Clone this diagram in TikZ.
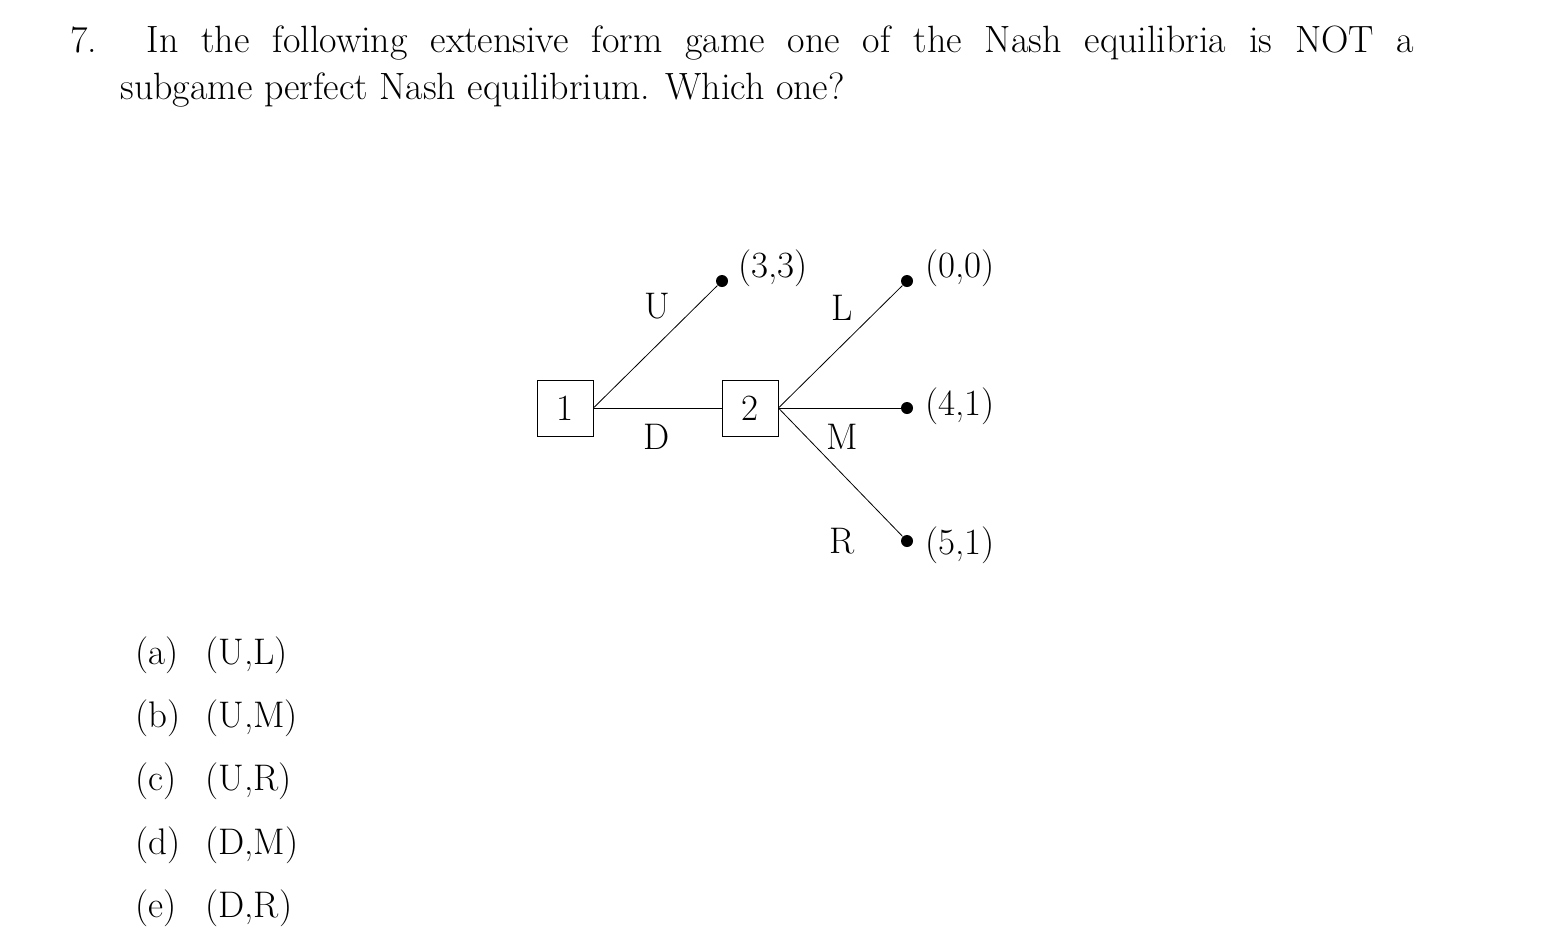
\documentclass[tikz,border=0pt]{standalone}
\begin{document}
\begin{tikzpicture}[x=0.5pt,y=-0.5pt,
  txt/.style={font=\fontsize{19}{24}\selectfont, inner sep=0pt},
  pbox/.style={draw, minimum size=28pt, inner sep=0pt, font=\fontsize{18.5}{22}\selectfont},
  dot/.style={circle, fill, inner sep=0pt, minimum size=6pt},
  lbl/.style={font=\fontsize{18.5}{22}\selectfont, inner sep=0pt}]
\useasboundingbox (0,0) rectangle (1568,928);
\node[txt, anchor=base west] (q1) at (70,52)
 {\makebox[672pt][s]{7. In the following extensive form game one of the Nash equilibria is NOT a}};
\node[txt, anchor=base west] (q2) at (120,99) {subgame perfect Nash equilibrium. Which one?};
\node[pbox] (p1) at (565,408) {1};
\node[pbox] (p2) at (750,408) {2};
\node[dot] (t1) at (722,281) {};
\node[dot] (t2) at (907,281) {};
\node[dot] (t3) at (907,408) {};
\node[dot] (t4) at (907,541) {};
\draw (p1.east) -- (t1);
\draw (p1.east) -- (p2.west);
\draw (p2.east) -- (t2);
\draw (p2.east) -- (t3);
\draw (p2.east) -- (t4);
\node[lbl] (lu) at (657,306) {U};
\node[lbl] (ld) at (657,437) {D};
\node[lbl] (ll) at (842,308) {L};
\node[lbl] (lm) at (842,437) {M};
\node[lbl] (lr) at (842,541) {R};
\node[lbl, anchor=west] (o1) at (738,268) {(3,3)};
\node[lbl, anchor=west] (o2) at (925,268) {(0,0)};
\node[lbl, anchor=west] (o3) at (925,406) {(4,1)};
\node[lbl, anchor=west] (o4) at (925,545) {(5,1)};
\node[lbl, anchor=west] (ca) at (135,655) {(a)};
\node[lbl, anchor=west] (va) at (205,655) {(U,L)};
\node[lbl, anchor=west] (cb) at (135,718) {(b)};
\node[lbl, anchor=west] (vb) at (205,718) {(U,M)};
\node[lbl, anchor=west] (cc) at (135,781) {(c)};
\node[lbl, anchor=west] (vc) at (205,781) {(U,R)};
\node[lbl, anchor=west] (cd) at (135,845) {(d)};
\node[lbl, anchor=west] (vd) at (205,845) {(D,M)};
\node[lbl, anchor=west] (ce) at (135,908) {(e)};
\node[lbl, anchor=west] (ve) at (205,908) {(D,R)};
\end{tikzpicture}
\end{document}
